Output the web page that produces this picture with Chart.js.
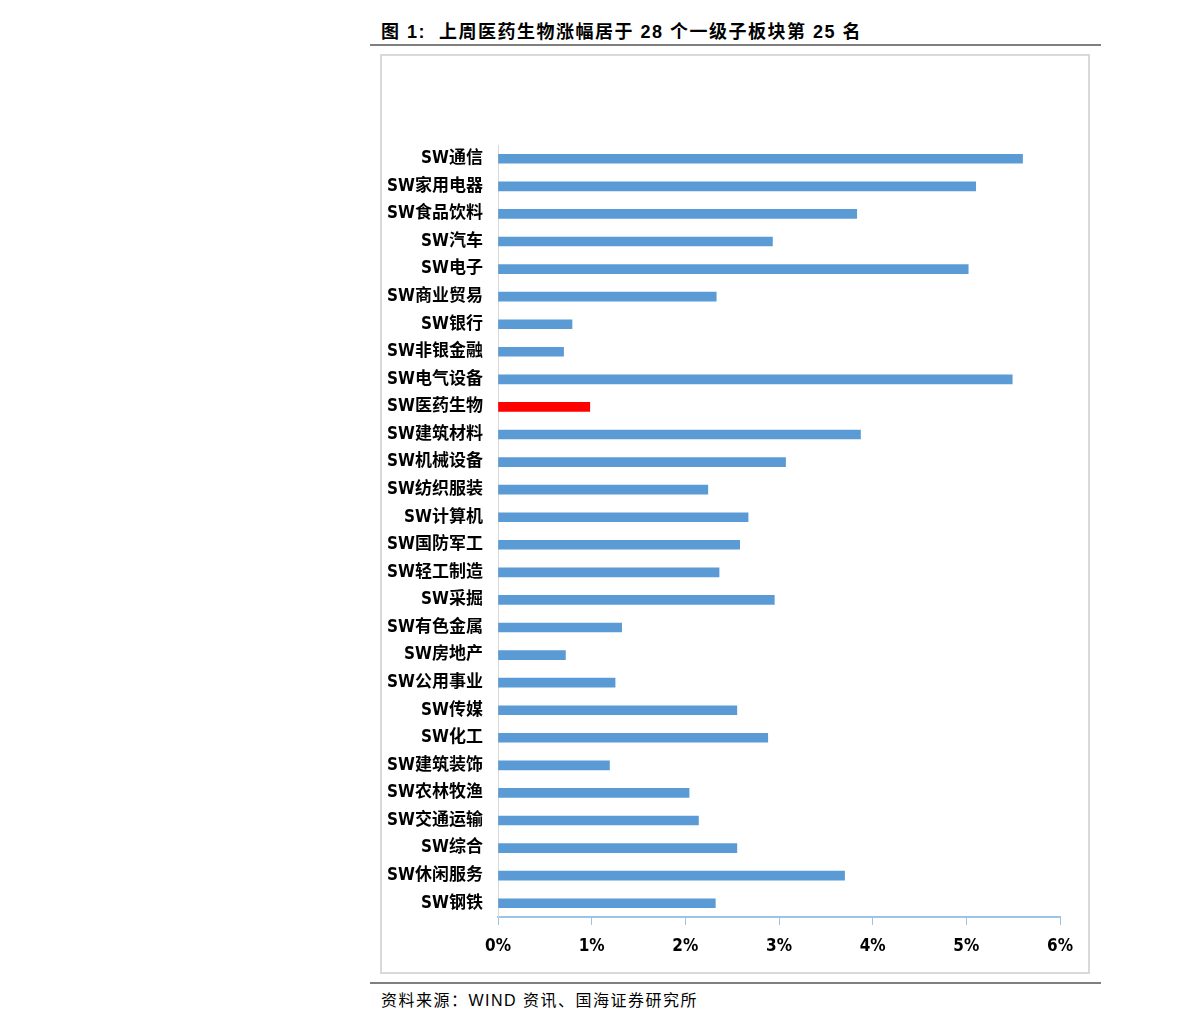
<!DOCTYPE html>
<html><head><meta charset="utf-8">
<script src="https://cdn.jsdelivr.net/npm/chart.js@4"></script>
<style>
body{margin:0;background:#fff;width:1191px;height:1029px;position:relative;overflow:hidden;font-family:"Noto Sans CJK SC","Liberation Sans",sans-serif;}
#title{position:absolute;left:381px;top:17px;font-size:18px;font-weight:bold;color:#000;white-space:nowrap;letter-spacing:1.5px;font-family:"Liberation Sans","Noto Sans CJK SC",sans-serif;}
#line1{position:absolute;left:370px;top:44px;width:731px;height:2px;background:#7f7f7f;}
#box{position:absolute;left:380px;top:54px;width:706px;height:916px;border:2px solid #d9d9d9;}
#wrap{position:absolute;left:0;top:0;width:706px;height:916px;}
#line2{position:absolute;left:370px;top:982px;width:731px;height:2px;background:#7f7f7f;}
#src{position:absolute;left:381px;top:987px;font-size:16px;color:#000;white-space:nowrap;letter-spacing:1.5px;font-family:"Liberation Sans","Noto Sans CJK SC",sans-serif;}
</style></head><body>
<div id="title">图 1:&nbsp; 上周医药生物涨幅居于 28 个一级子板块第 25 名</div>
<div id="line1"></div>
<div id="box"><div id="wrap"><canvas id="c" width="706" height="916"></canvas></div></div>
<div id="line2"></div>
<div id="src">资料来源：WIND 资讯、国海证券研究所</div>
<script>
const categories = ["SW通信","SW家用电器","SW食品饮料","SW汽车","SW电子","SW商业贸易","SW银行","SW非银金融","SW电气设备","SW医药生物","SW建筑材料","SW机械设备","SW纺织服装","SW计算机","SW国防军工","SW轻工制造","SW采掘","SW有色金属","SW房地产","SW公用事业","SW传媒","SW化工","SW建筑装饰","SW农林牧渔","SW交通运输","SW综合","SW休闲服务","SW钢铁"];
const values = [5.60,5.10,3.83,2.93,5.02,2.33,0.79,0.70,5.49,0.98,3.87,3.07,2.24,2.67,2.58,2.36,2.95,1.32,0.72,1.25,2.55,2.88,1.19,2.04,2.14,2.55,3.70,2.32];
const highlight = "SW医药生物";
const xTicks = [0,1,2,3,4,5,6];

const colors = categories.map(c => c === highlight ? "#ff0000" : "#5b9bd5");
const labelFont = '"Liberation Sans Narrow","DejaVu Sans Condensed","Noto Sans CJK SC",sans-serif';

new Chart(document.getElementById("c"), {
  type: "bar",
  data: { labels: categories, datasets: [{ data: values, backgroundColor: colors, barThickness: 9, borderWidth: 0 }] },
  options: {
    indexAxis: "y",
    responsive: false,
    animation: false,
    layout: { padding: { top: 89, right: 28, left: 0, bottom: 0 } },
    plugins: { legend: { display: false }, tooltip: { enabled: false } },
    scales: {
      x: {
        min: 0, max: 6,
        afterBuildTicks: s => { s.ticks = xTicks.map(v => ({ value: v })); },
        afterFit: s => { s.height = 55; },
        grid: { drawOnChartArea: false, drawTicks: true, tickLength: 8, color: "#9dc3e6", lineWidth: 1 },
        border: { display: true, color: "#9dc3e6", width: 2 },
        ticks: { padding: 11, color: "#000", font: { family: labelFont, size: 17, weight: "bold" }, callback: v => v + "%" }
      },
      y: {
        afterFit: s => { s.width = 116; },
        grid: { display: false, drawTicks: false },
        border: { display: true, color: "#d9d9d9", width: 1 },
        ticks: { padding: 15, color: "#000", autoSkip: false, font: { family: labelFont, size: 17, weight: "bold" } }
      }
    }
  }
});
</script>
</body></html>
